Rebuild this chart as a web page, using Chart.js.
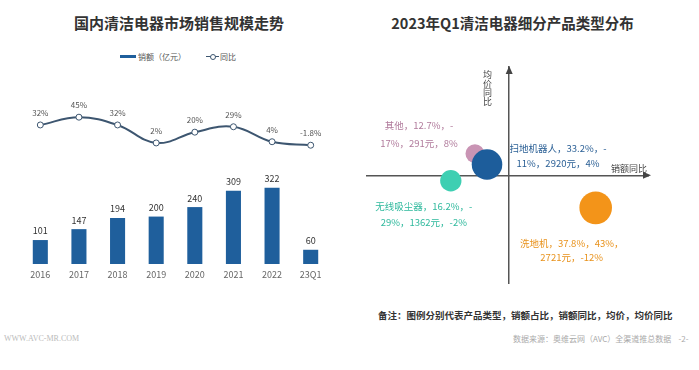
<!DOCTYPE html>
<html><head><meta charset="utf-8">
<script src="https://cdn.jsdelivr.net/npm/chart.js@4"></script>
<style>
html,body{margin:0;padding:0;background:#fff;}
body{width:699px;height:370px;overflow:hidden;position:relative;font-family:"Noto Sans CJK SC","Noto Sans",sans-serif;}
.abs{position:absolute;white-space:nowrap;}
canvas{position:absolute;top:0;}
</style></head><body>
<div class="abs" style="left:0;width:358px;top:15px;line-height:15px;text-align:center;font-size:15px;font-weight:bold;color:#333;">国内清洁电器市场销售规模走势</div>
<div class="abs" style="left:350px;width:325px;top:15px;line-height:15px;text-align:center;font-size:14.5px;font-weight:bold;color:#333;">2023年Q1清洁电器细分产品类型分布</div>

<div class="abs" id="lg1" style="left:120px;top:51px;height:10px;font-size:8px;line-height:10px;color:#555;"></div>

<canvas id="c1" width="350" height="300" style="left:0;"></canvas>
<canvas id="c2" width="349" height="300" style="left:350px;"></canvas>

<div class="abs" style="left:483px;top:70px;width:9px;white-space:normal;word-break:break-all;font-size:9px;line-height:9px;color:#444;">均价同比</div>
<div class="abs" style="left:611px;top:164px;font-size:9px;line-height:10px;color:#444;">销额同比</div>

<div class="abs" style="left:378px;top:310px;font-size:9.5px;line-height:10px;font-weight:bold;color:#333;">备注：图例分别代表产品类型，销额占比，销额同比，均价，均价同比</div>
<div class="abs" style="left:4px;top:334px;font-size:8px;line-height:10px;color:#bbb;font-family:'Liberation Serif',serif;">WWW.AVC-MR.COM</div>
<div class="abs" style="left:513px;top:334px;font-size:8px;line-height:10px;color:#aaa;">数据来源：奥维云网（AVC）全渠道推总数据&nbsp;&nbsp;&nbsp;&nbsp;-2-</div>

<script>
// ---- Left chart data ----
const years = ['2016','2017','2018','2019','2020','2021','2022','23Q1'];
const salesValue = [101,147,194,200,240,309,322,60];
const yoyPct = [32,45,32,2,20,29,4,-1.8];
const yoyLabels = ['32%','45%','32%','2%','20%','29%','4%','-1.8%'];
const seriesNames = ['销额（亿元）','同比'];

// ---- Right chart data ----
const products = ['扫地机器人','洗地机','无线吸尘器','其他'];
const productShare = [33.2,37.8,16.2,12.7];
const productSalesYoY = [-11,43,-29,-17];
const productPrice = [2920,2721,1362,291];
const productPriceYoY = [4,-12,-2,8];

const BAR_BLUE = '#1f5f9c';
const LINE_COLOR = '#3d5670';
const FONT = '"Noto Sans CJK SC","Noto Sans",sans-serif';

(function(){
  const lg = document.getElementById('lg1');
  lg.innerHTML =
    '<span style="display:inline-block;width:16px;height:3px;background:'+BAR_BLUE+';vertical-align:middle;margin-right:2px;"></span>' +
    '<span style="vertical-align:middle;">'+seriesNames[0]+'</span>' +
    '<span style="display:inline-block;width:20px;"></span>' +
    '<span style="display:inline-block;position:relative;width:13px;height:6px;vertical-align:middle;margin-right:1px;">' +
      '<span style="position:absolute;left:0;top:2.5px;width:13px;height:1px;background:'+LINE_COLOR+';"></span>' +
      '<span style="position:absolute;left:3.5px;top:0;width:4px;height:4px;border:1px solid '+LINE_COLOR+';border-radius:50%;background:#fff;"></span>' +
    '</span>' +
    '<span style="vertical-align:middle;">'+seriesNames[1]+'</span>';
})();

const valueLabels = {
  id:'valueLabels',
  afterDatasetsDraw(chart){
    const ctx = chart.ctx;
    ctx.save();
    ctx.textAlign = 'center';
    ctx.textBaseline = 'middle';
    const mb = chart.getDatasetMeta(0);
    ctx.font = '9px ' + FONT;
    ctx.fillStyle = '#333';
    mb.data.forEach((el,i)=>{ ctx.fillText(String(salesValue[i]), el.x, el.y - 9); });
    const ml = chart.getDatasetMeta(1);
    ctx.font = '8px ' + FONT;
    ctx.fillStyle = '#555';
    ml.data.forEach((el,i)=>{ ctx.fillText(yoyLabels[i], el.x, el.y - 12); });
    ctx.restore();
  }
};

new Chart(document.getElementById('c1'), {
  type:'bar',
  data:{
    labels: years,
    datasets:[
      {label:seriesNames[0], data: salesValue, backgroundColor: BAR_BLUE, yAxisID:'y',
       barPercentage:0.39, categoryPercentage:1.0, order:1},
      {label:seriesNames[1], type:'line', data: yoyPct, yAxisID:'y2', borderColor: LINE_COLOR,
       borderWidth:2, tension:0.4, pointRadius:3, pointBackgroundColor:'#fff', pointBorderColor: LINE_COLOR,
       pointBorderWidth:1, order:0}
    ]
  },
  options:{
    responsive:false, animation:false, devicePixelRatio:1,
    layout:{padding:{top:98,left:21,right:20,bottom:16}},
    plugins:{legend:{display:false}, tooltip:{enabled:false}},
    scales:{
      x:{grid:{display:false,drawTicks:false}, border:{display:false},
         ticks:{color:'#666', font:{size:9, family:FONT}, padding:5, maxRotation:0, autoSkip:false},
         afterFit(s){ s.height = 20; }},
      y:{display:false, min:0, max:700},
      y2:{display:false, min:-200, max:77}
    }
  },
  plugins:[valueLabels]
});

const bubbleColors = ['#1d5d9b','#f39419','#3ecfb2','#c994b4'];
const bubbleTextColors = ['#2a5f95','#e8921c','#2fb99d','#b07a9b'];
const labelOffsets = [[71,-16,71,-1],[-24,36,-24,50],[-27,26,-27,42],[-56,-28,-56,-10]];

const bubbleLabels = {
  id:'bubbleLabels',
  afterDraw(chart){
    const ctx = chart.ctx;
    const xs = chart.scales.x, ys = chart.scales.y;
    const ax = xs.getPixelForValue(0), ay = ys.getPixelForValue(0);
    ctx.save();
    ctx.fillStyle = '#444';
    const rx = chart.chartArea.right + 3;
    ctx.beginPath(); ctx.moveTo(rx, ay); ctx.lineTo(rx-8, ay-3.5); ctx.lineTo(rx-8, ay+3.5); ctx.closePath(); ctx.fill();
    const ty = chart.chartArea.top - 1;
    ctx.beginPath(); ctx.moveTo(ax, ty); ctx.lineTo(ax-3.5, ty+8); ctx.lineTo(ax+3.5, ty+8); ctx.closePath(); ctx.fill();
    ctx.textAlign='center'; ctx.textBaseline='middle';
    ctx.font = '9.5px ' + FONT;
    products.forEach((p,i)=>{
      const el = chart.getDatasetMeta(i).data[0];
      let l1, l2;
      const sy = String(productSalesYoY[i]);
      if (productSalesYoY[i] < 0) {
        l1 = p + '，' + productShare[i] + '%，-';
        l2 = sy.slice(1) + '%，' + productPrice[i] + '元，' + productPriceYoY[i] + '%';
      } else {
        l1 = p + '，' + productShare[i] + '%，' + productSalesYoY[i] + '%，';
        l2 = productPrice[i] + '元，' + productPriceYoY[i] + '%';
      }
      const o = labelOffsets[i];
      ctx.fillStyle = bubbleTextColors[i];
      ctx.fillText(l1, el.x + o[0], el.y + o[1]);
      ctx.fillText(l2, el.x + o[2], el.y + o[3]);
    });
    ctx.restore();
  }
};

new Chart(document.getElementById('c2'), {
  type:'bubble',
  data:{
    datasets: products.map((p,i)=>({
      label:p,
      data:[{x:productSalesYoY[i], y:productPriceYoY[i], r:Math.sqrt(productShare[i])*2.65}],
      backgroundColor: bubbleColors[i], borderWidth:0, hoverBorderWidth:0
    }))
  },
  options:{
    responsive:false, animation:false, devicePixelRatio:1,
    layout:{padding:{top:67,bottom:9,left:7,right:51}},
    plugins:{legend:{display:false}, tooltip:{enabled:false}},
    scales:{
      x:{type:'linear', min:-71, max:69, position:{y:0}, grid:{display:false,drawTicks:false},
         ticks:{display:false}, border:{display:true,color:'#555',width:1.5}},
      y:{type:'linear', min:-40, max:40, position:{x:0}, grid:{display:false,drawTicks:false},
         ticks:{display:false}, border:{display:true,color:'#555',width:1.5}}
    }
  },
  plugins:[bubbleLabels]
});
</script>
</body></html>
